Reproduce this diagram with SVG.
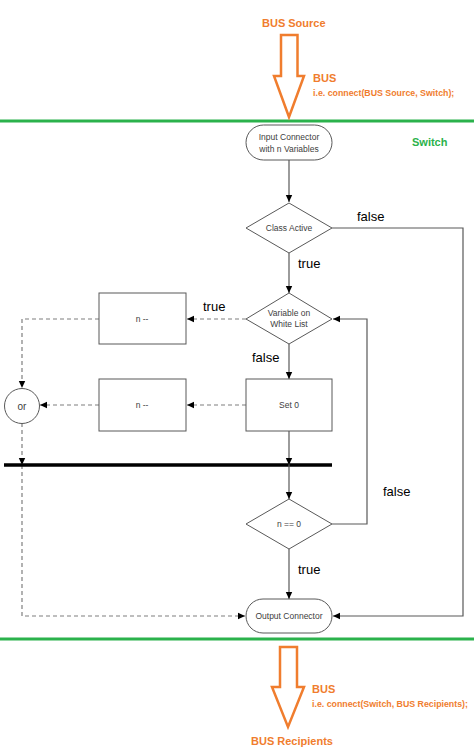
<svg xmlns="http://www.w3.org/2000/svg" width="474" height="756" viewBox="0 0 474 756">
<style>
.n{fill:#fff;stroke:#595959;stroke-width:1}
.t{font-family:"Liberation Sans",Arial,sans-serif;font-size:8.5px;fill:#404040;text-anchor:middle}
.lbl{font-family:"Liberation Sans",Arial,sans-serif;font-size:13px;fill:#000}
.c{fill:none;stroke:#595959;stroke-width:1.2}
.d{fill:none;stroke:#7f7f7f;stroke-width:1.2;stroke-dasharray:4,3}
.o{font-family:"Liberation Sans",Arial,sans-serif;font-weight:bold;fill:#f07d2e}
.g{fill:none;stroke:#2bb24c;stroke-width:3}
.bus{fill:#fff;stroke:#f07d2e;stroke-width:2.5;stroke-linejoin:miter}
</style>
<defs>
<marker id="ah" markerUnits="userSpaceOnUse" markerWidth="8" markerHeight="8" refX="7" refY="4" orient="auto">
<path d="M0,0.8 L7,4 L0,7.2 Z" fill="#000"/>
</marker>
</defs>
<rect width="474" height="756" fill="#fff"/>
<g id="boundaries">
<line class="g" x1="0" y1="121" x2="474" y2="121"/>
<line class="g" x1="0" y1="639" x2="474" y2="639"/>
<text class="o" x="412" y="146" font-size="11" style="fill:#2bb24c">Switch</text>
</g>
<g id="bus-in">
<path class="bus" d="M281,35 L297.5,35 L297.5,76 L304,76 L289,117 L274,76 L281,76 Z"/>
<text class="o" x="262" y="27" font-size="11">BUS Source</text>
<text class="o" x="313" y="82" font-size="11">BUS</text>
<text class="o" x="313" y="96" font-size="8.8">i.e. connect(BUS Source, Switch);</text>
</g>
<g id="bus-out">
<path class="bus" d="M280,647 L297,647 L297,687 L304,687 L288,727 L272,687 L280,687 Z"/>
<text class="o" x="312" y="693" font-size="11">BUS</text>
<text class="o" x="312" y="707" font-size="8.8">i.e. connect(Switch, BUS Recipients);</text>
<text class="o" x="251" y="745" font-size="11">BUS Recipients</text>
</g>
<g id="connectors">
<line class="c" x1="289" y1="160" x2="289" y2="202" marker-end="url(#ah)"/>
<polyline class="c" points="332,228 463,228 463,616 333,616" marker-end="url(#ah)"/>
<line class="c" x1="289" y1="253" x2="289" y2="293" marker-end="url(#ah)"/>
<line class="d" x1="246" y1="319" x2="187" y2="319" marker-end="url(#ah)"/>
<polyline class="d" points="99,319 22,319 22,388" marker-end="url(#ah)"/>
<line class="c" x1="289" y1="344" x2="289" y2="379" marker-end="url(#ah)"/>
<line class="d" x1="246" y1="405" x2="187" y2="405" marker-end="url(#ah)"/>
<line class="d" x1="99" y1="405" x2="40" y2="405" marker-end="url(#ah)"/>
<line class="d" x1="22" y1="423" x2="22" y2="465" marker-end="url(#ah)"/>
<polyline class="d" points="22,465 22,616 245,616" marker-end="url(#ah)"/>
<line x1="4" y1="465" x2="332" y2="465" stroke="#000" stroke-width="3.5"/>
<line class="c" x1="289" y1="431" x2="289" y2="465" marker-end="url(#ah)"/>
<line class="c" x1="289" y1="465" x2="289" y2="499" marker-end="url(#ah)"/>
<polyline class="c" points="332,524 367,524 367,319 333,319" marker-end="url(#ah)"/>
<line class="c" x1="289" y1="549" x2="289" y2="599" marker-end="url(#ah)"/>
<text class="lbl" x="357" y="221">false</text>
<text class="lbl" x="298" y="268">true</text>
<text class="lbl" x="203" y="311">true</text>
<text class="lbl" x="252" y="362">false</text>
<text class="lbl" x="383" y="496">false</text>
<text class="lbl" x="298" y="574">true</text>
</g>
<g id="input">
<rect class="n" x="246" y="125" width="86" height="35" rx="17.5"/>
<text class="t" x="289" y="140">Input Connector</text>
<text class="t" x="289" y="152">with n Variables</text>
</g>
<g id="class-active">
<polygon class="n" points="289,203 332,228 289,253 246,228"/>
<text class="t" x="289" y="231">Class Active</text>
</g>
<g id="white-list">
<polygon class="n" points="289,293 332,319 289,344 246,319"/>
<text class="t" x="289" y="316">Variable on</text>
<text class="t" x="289" y="327">White List</text>
</g>
<g id="dec1">
<rect class="n" x="99" y="293" width="87" height="51"/>
<text class="t" x="142" y="322">n --</text>
</g>
<g id="set0">
<rect class="n" x="246" y="379" width="86" height="52"/>
<text class="t" x="289" y="408">Set 0</text>
</g>
<g id="dec2">
<rect class="n" x="99" y="379" width="87" height="52"/>
<text class="t" x="142" y="408">n --</text>
</g>
<g id="or">
<circle class="n" cx="22" cy="406" r="17.5"/>
<text class="t" x="22" y="410" style="font-size:10px">or</text>
</g>
<g id="n-zero">
<polygon class="n" points="289,499 332,524 289,549 246,524"/>
<text class="t" x="289" y="527">n == 0</text>
</g>
<g id="output">
<rect class="n" x="246" y="599" width="86" height="34" rx="17"/>
<text class="t" x="289" y="619">Output Connector</text>
</g>
</svg>
